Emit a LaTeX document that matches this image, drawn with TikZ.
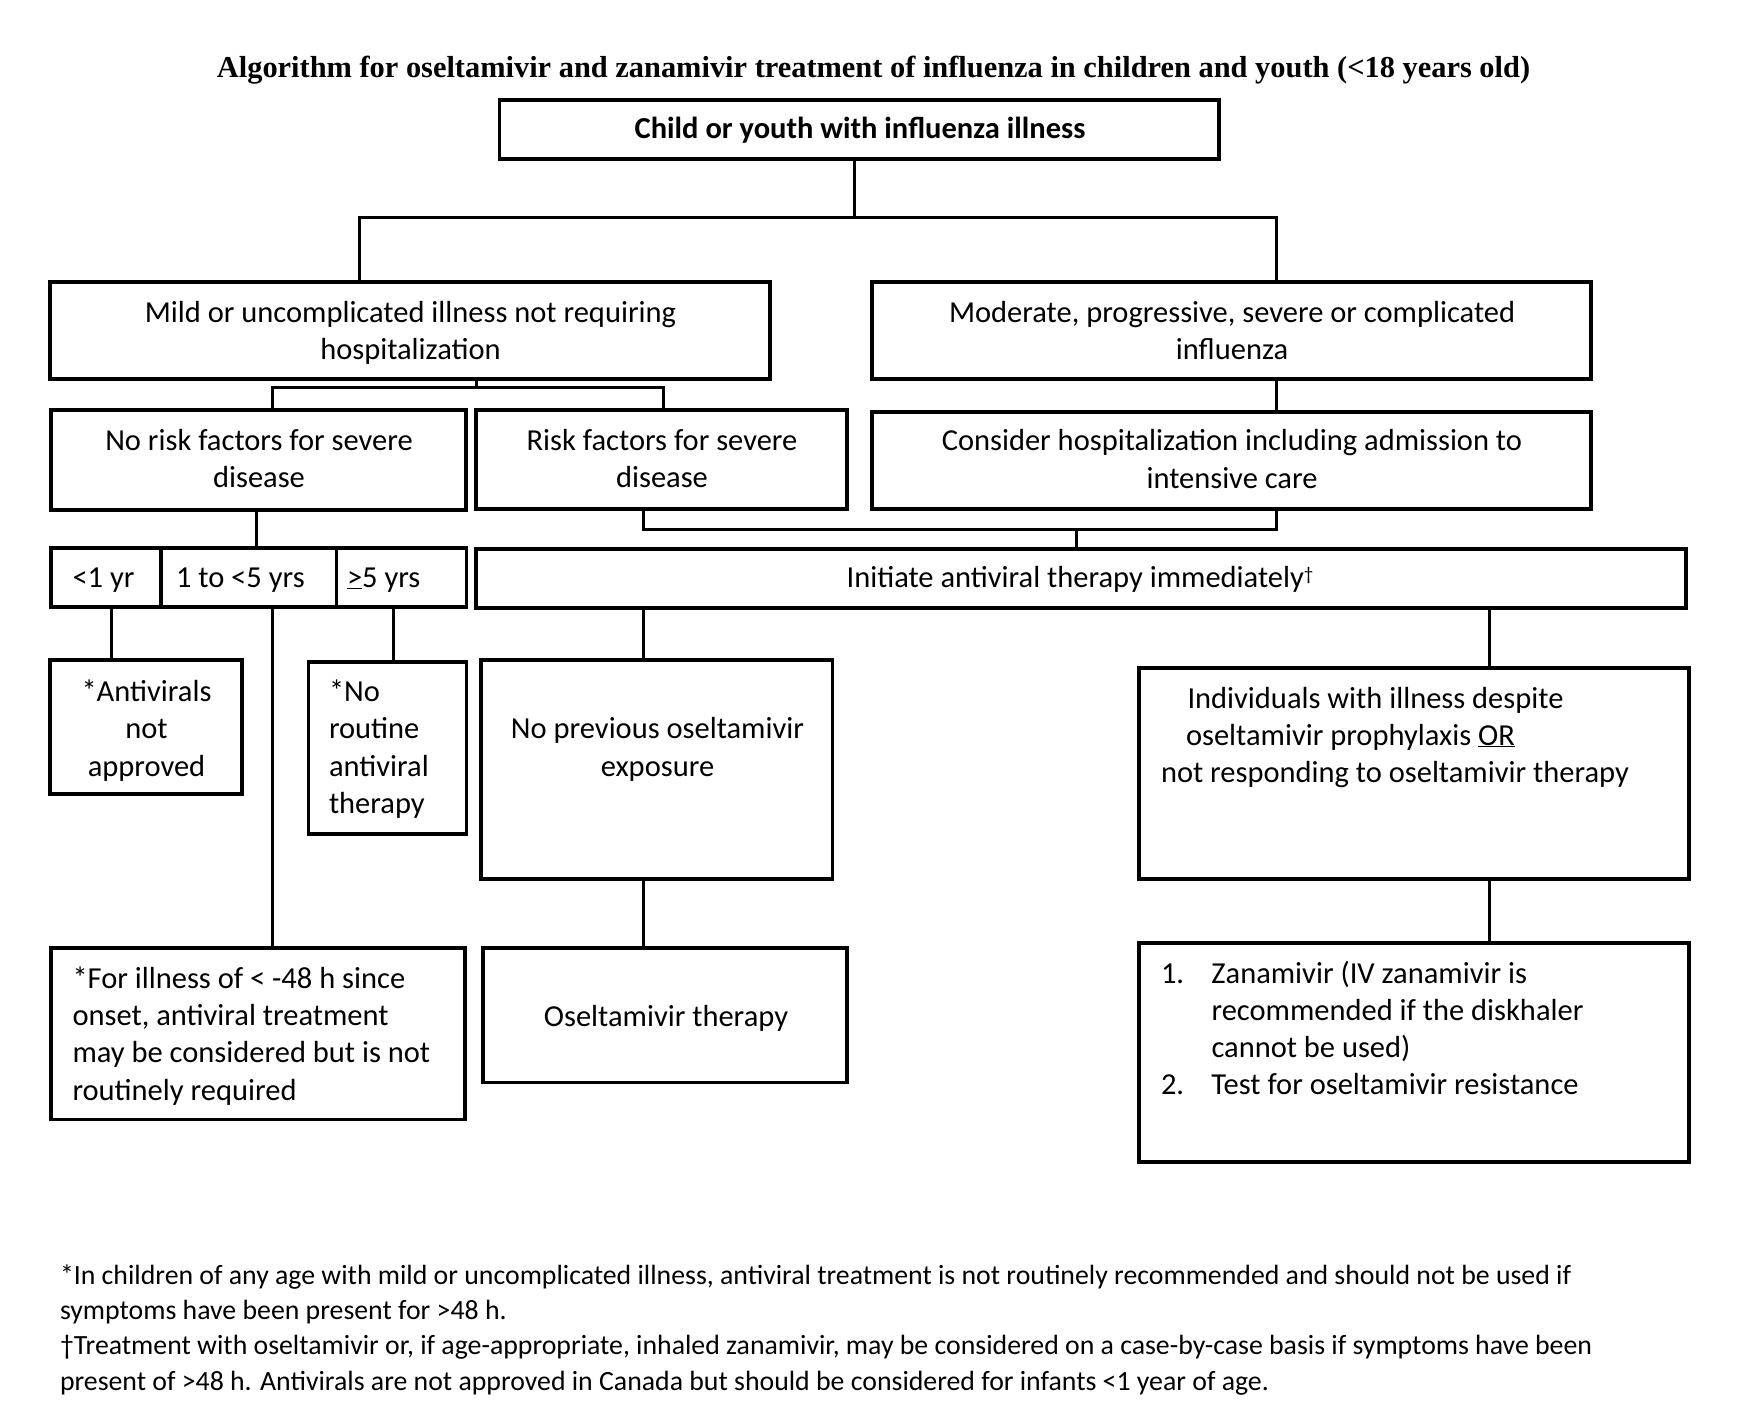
\documentclass[tikz,border=0pt]{standalone}
\usepackage{fontspec}
\setmainfont{Carlito}
\newfontfamily\titlefont{Liberation Serif}
\newcommand\bodyfont{\fontsize{30.5}{36.5}\selectfont}
\newcommand\notefont{\fontsize{27.8}{35.3}\selectfont}
\begin{document}
\begin{tikzpicture}[x=1pt,y=-1pt,
  box/.style={draw, line width=3.2pt, inner sep=0pt, outer sep=0pt},
  txt/.style={inner sep=0pt, outer sep=0pt, font=\bodyfont, anchor=base},
  txtl/.style={txt, align=left, anchor=base west},
  txtc/.style={txt, align=center},
  conn/.style={line width=3pt, line join=miter}]
\fill[white] (0,0) rectangle (1750,1425);
\useasboundingbox (0,0) rectangle (1750,1425);

% title
\node[inner sep=0pt, anchor=base, font=\titlefont\fontsize{30.4}{32}\selectfont\bfseries] (title) at (873.5,77)
  {Algorithm for oseltamivir and zanamivir treatment of influenza in children and youth (<18 years old)};

% boxes
\node[box, minimum width=719.5pt, minimum height=59pt] (top) at (859.25,129.5) {};
\node[box, minimum width=720pt, minimum height=97pt] (mild) at (410,330.5) {};
\node[box, minimum width=719pt, minimum height=97pt] (mod) at (1231.5,330.5) {};
\node[box, minimum width=415pt, minimum height=100pt] (norisk) at (258.5,460) {};
\node[box, minimum width=371pt, minimum height=99pt] (risk) at (661.5,459.5) {};
\node[box, minimum width=719pt, minimum height=97pt] (consider) at (1231.5,460.5) {};
\node[box, minimum width=110pt, minimum height=59pt] (ageA) at (106,577.5) {};
\node[box, minimum width=175.5pt, minimum height=59pt] (ageB) at (248.75,577.5) {};
\node[box, minimum width=130pt, minimum height=59pt] (ageC) at (401.5,577.5) {};
\node[box, minimum width=1210pt, minimum height=59pt] (initiate) at (1081,578.5) {};
\node[box, minimum width=192pt, minimum height=134pt] (antiv) at (146,727) {};
\node[box, minimum width=158pt, minimum height=172pt] (noroutine) at (387.5,748) {};
\node[box, minimum width=351.5pt, minimum height=219pt] (noprev) at (656.75,769.5) {};
\node[box, minimum width=364pt, minimum height=134.5pt] (osel) at (665,1015.25) {};
\node[box, minimum width=414pt, minimum height=171.5pt] (forill) at (258,1033.75) {};
\node[box, minimum width=550pt, minimum height=211pt] (indiv) at (1414,773.5) {};
\node[box, minimum width=550pt, minimum height=219pt] (zan) at (1414,1052.5) {};

% texts (multi-line nodes are anchored at the baseline of their last line)
\node[txtc, font=\bodyfont\bfseries] (toptxt) at (860,138) {Child or youth with influenza illness};
\node[txtc] (mildtxt) at (410.5,359) {Mild or uncomplicated illness not requiring\\hospitalization};
\node[txtc] (modtxt) at (1232,359) {Moderate, progressive, severe or complicated\\influenza};
\node[txtc, font=\fontsize{30.5}{37.5}\selectfont] (norisktxt) at (259,487.5) {No risk factors for severe\\disease};
\node[txtc, font=\fontsize{30.5}{37.5}\selectfont] (risktxt) at (662,487.5) {Risk factors for severe\\disease};
\node[txtc, font=\fontsize{30.5}{37.5}\selectfont] (considertxt) at (1232,488) {Consider hospitalization including admission to\\intensive care};
\node[txtl] (ageAtxt) at (72.5,587) {<1 yr};
\node[txtl] (ageBtxt) at (176,587) {1 to <5 yrs};
\node[txtl] (ageCtxt) at (347,587) {\underline{>}5 yrs};
\node[txtc] (initiatetxt) at (1080,587) {Initiate antiviral therapy immediately\raisebox{7pt}{\fontsize{19}{19}\selectfont †}};
\node[txtc, font=\fontsize{30.5}{37.5}\selectfont] (antivtxt) at (146.5,776) {*Antivirals\\not\\approved};
\node[txtl, font=\fontsize{30.5}{37.3}\selectfont] (noroutinetxt) at (329,813.5) {*No\\routine\\antiviral\\therapy};
\node[txtc, font=\fontsize{30.5}{38}\selectfont] (noprevtxt) at (657.5,776) {No previous oseltamivir\\exposure};
\node[txtc] (oseltxt) at (666,1026) {Oseltamivir therapy};
\node[txtl, font=\fontsize{30.5}{37.2}\selectfont] (forilltxt) at (72.5,1100) {*For illness of < -48 h since\\onset, antiviral treatment\\may be considered but is not\\routinely required};
\node[txtl, font=\fontsize{30.5}{37}\selectfont] (indivtxt) at (1161,782) {\hspace*{26.5pt}Individuals with illness despite\\\hspace*{25pt}oseltamivir prophylaxis \underline{OR}\\not responding to oseltamivir therapy};
\node[txtl, font=\fontsize{30.5}{37.2}\selectfont] (zantxt) at (1161,1094.7) {\makebox[50.5pt][l]{1.}Zanamivir (IV zanamivir is\\\hspace*{50.5pt}recommended if the diskhaler\\\hspace*{50.5pt}cannot be used)\\\makebox[50.5pt][l]{2.}Test for oseltamivir resistance};
\node[txtl, font=\notefont] (notes) at (60,1390) {*In children of any age with mild or uncomplicated illness, antiviral treatment is not routinely recommended and should not be used if\\symptoms have been present for >48 h.\\†Treatment with oseltamivir or, if age-appropriate, inhaled zanamivir, may be considered on a case-by-case basis if symptoms have been\\present of >48 h. Antivirals are not approved in Canada but should be considered for infants <1 year of age.};

% connectors
\coordinate (j1) at (854,217);
\coordinate (j1l) at (359,217);
\coordinate (j1r) at (1276,217);
\draw[conn] (top.south -| j1) -- (j1);
\draw[conn] (mild.north -| j1l) -- (j1l) -- (j1r) -- (mod.north -| j1r);
\coordinate (j2) at (476,387);
\coordinate (j2l) at (272,387);
\coordinate (j2r) at (663,387);
\draw[conn] (mild.south -| j2) -- (j2);
\draw[conn] (norisk.north -| j2l) -- (j2l) -- (j2r) -- (risk.north -| j2r);
\draw[conn] (mod.south -| j1r) -- (consider.north -| j1r);
\coordinate (j3l) at (643,529.5);
\coordinate (j3r) at (1276,529.5);
\coordinate (j3) at (1076,529.5);
\draw[conn] (risk.south -| j3l) -- (j3l) -- (j3r) -- (consider.south -| j3r);
\draw[conn] (j3) -- (initiate.north -| j3);
\coordinate (cN) at (256,0);
\coordinate (cA) at (111,0);
\coordinate (cB) at (272,0);
\coordinate (cC) at (393,0);
\coordinate (cP) at (643,0);
\coordinate (cI) at (1489,0);
\draw[conn] (norisk.south -| cN) -- (ageB.north -| cN);
\draw[conn] (ageA.south -| cA) -- (antiv.north -| cA);
\draw[conn] (ageB.south -| cB) -- (forill.north -| cB);
\draw[conn] (ageC.south -| cC) -- (noroutine.north -| cC);
\draw[conn] (initiate.south -| cP) -- (noprev.north -| cP);
\draw[conn] (noprev.south -| cP) -- (osel.north -| cP);
\draw[conn] (initiate.south -| cI) -- (indiv.north -| cI);
\draw[conn] (indiv.south -| cI) -- (zan.north -| cI);
\end{tikzpicture}
\end{document}
